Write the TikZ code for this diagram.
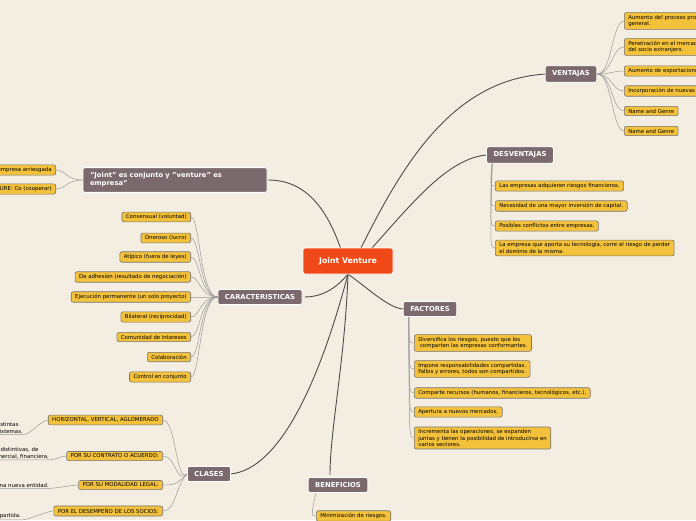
\documentclass[tikz,border=0pt]{standalone}
\usepackage{fontspec}
\setmainfont{DejaVu Sans}
\definecolor{leafc}{RGB}{244,194,58}
\definecolor{brc}{RGB}{122,106,110}
\definecolor{rootc}{RGB}{240,72,22}
\definecolor{bgc}{RGB}{244,238,226}
\begin{document}
\begin{tikzpicture}[x=1pt,y=-1pt,
 leaf/.style={draw=black!55,fill=leafc,rounded corners=2pt,font=\fontsize{5.4}{6.4}\selectfont,inner xsep=4pt,inner ysep=2.5pt,align=left,line width=0.6pt},
 cleaf/.style={leaf,align=center},
 branch/.style={draw=white,fill=brc,rounded corners=2pt,text=white,font=\fontsize{6.8}{8.2}\bfseries\selectfont,inner xsep=7pt,inner ysep=5pt,line width=0.8pt,align=left},
 root/.style={draw=white,fill=rootc,rounded corners=2pt,text=white,font=\fontsize{7.8}{9}\bfseries\selectfont,minimum width=90pt,minimum height=26pt,line width=0.8pt},
 main/.style={draw=black!70,line width=0.9pt},
 sub/.style={draw=black!40,line width=0.5pt},
 cut/.style={font=\fontsize{5.4}{6.4}\selectfont,align=left,inner sep=1pt}]
\fill[bgc] (0,0) rectangle (696,520);
\useasboundingbox (0,0) rectangle (696,520);

\draw[main] (348,274) .. controls (390,190) and (440,80) .. (546,74);
\draw[main] (348,274) .. controls (400,220) and (440,160) .. (486,155);
\draw[main] (348,274) .. controls (370,290) and (390,309) .. (404,309);
\draw[main] (348,274) .. controls (345,360) and (330,430) .. (330,475);
\draw[main] (348,274) .. controls (320,380) and (280,470) .. (230,474);
\draw[main] (348,274) .. controls (335,290) and (320,297) .. (305,297);
\draw[main] (348,274) .. controls (330,200) and (300,180) .. (268,180);

\node[root] (r) at (348,261) {Joint Venture};
\node[branch] (v) at (571,74) {VENTAJAS};
\node[branch] (d) at (520,155) {DESVENTAJAS};
\node[branch] (f) at (430,309) {FACTORES};
\node[branch] (b) at (338,485) {BENEFICIOS};
\node[branch] (c) at (209,474) {CLASES};
\node[branch] (k) at (260,297) {CARACTERISTICAS};
\node[branch,text width=170pt] (j) at (175,180) {"Joint" es conjunto y "venture" es\\empresa"};

\foreach \y/\t [count=\i] in {21/{Aumento del proceso productivo en\\general.},47/{Penetración en el mercado interno\\del socio extranjero.},71/{Aumento de exportaciones.},91/{Incorporación de nuevas tecnologías.},111/{Name and Genre},131/{Name and Genre}}{
 \node[leaf,anchor=west] (v\i) at (624,\y) {\t};
 \draw[sub] (v.east) .. controls (612,74) and (612,\y) .. (v\i.west);}

\foreach \y/\t [count=\i] in {186/{Las empresas adquieren riesgos financieros.},206/{Necesidad de una mayor inversión de capital.},226/{Posibles conflictos entre empresas.},248/{La empresa que aporta su tecnología, corre el riesgo de perder\\el dominio de la misma.}}{
 \node[leaf,anchor=west] (d\i) at (495,\y) {\t};
 \draw[sub] (d.south west) ++(6,0) .. controls (490,\y) .. (d\i.west);}

\foreach \y/\t [count=\i] in {343/{Diversifica los riesgos, puesto que los\\ \ comparten las empresas conformantes.},369/{Impone responsabilidades compartidas.\\Fallos y errores, todos son compartidos.},393/{Comparte recursos (humanos, financieros, tecnológicos, etc.),},412/{Apertura a nuevos mercados,},438/{Incrementa las operaciones, se expanden\\juntas y tienen la posibilidad de introducirse en\\varios sectores.}}{
 \node[leaf,anchor=west] (f\i) at (414,\y) {\t};
 \draw[sub] (f.south west) ++(6,0) .. controls (409,\y) .. (f\i.west);}

\node[leaf,anchor=west] (b1) at (316,516) {Minimización de riesgos.};
\draw[sub] (b.south west) ++(8,0) .. controls (311,516) .. (b1.west);

\foreach \y/\t [count=\i] in {217/{Consensual (voluntad)},238/{Oneroso (lucro)},257/{Atípico (fuera de leyes)},277/{De adhesión (resultado de negociación)},297/{Ejecución permanente (un solo proyecto)},317/{Bilateral (reciprocidad)},337/{Comunidad de intereses},357/{Colaboración},377/{Control en conjunto}}{
 \node[leaf,anchor=east] (k\i) at (191,\y) {\t};
 \draw[sub] (k.west) .. controls (200,297) and (200,\y) .. (k\i.east);}

\foreach \y/\t/\tx/\ty/\ct [count=\i] in {420/{HORIZONTAL, VERTICAL, AGLOMERADO}/24/428/{Se dan entre empresas distintas.\\Pertenecen a diferentes sistemas.},456/{POR SU CONTRATO O ACUERDO:}/50/453/{Según las características distintivas, de\\colaboración técnica, comercial, financiera,},485/{POR SU MODALIDAD LEGAL:}/50/485/{Sin formar o formando una nueva entidad.},511/{POR EL DESEMPEÑO DE LOS SOCIOS:}/22/516/{Con participación compartida.}}{
 \node[cleaf,anchor=east,font=\fontsize{5.4}{6.4}\selectfont] (c\i) at (163,\y) {\t};
 \draw[sub] (c.west) .. controls (176,484) and (176,\y) .. (c\i.east);
 \node[cut,anchor=east] (ct\i) at (\tx,\ty) {\ct};
 \draw[sub] (c\i.west) .. controls ([xshift=-6pt]c\i.west) and ([xshift=6pt]ct\i.south east) .. (ct\i.south east) -- (ct\i.south west);}

\node[leaf,anchor=east] (j1) at (56,170) {Venture: empresa arriesgada};
\node[leaf,anchor=east] (j2) at (56,189) {JOINT VENTURE: Co (cooperar)};
\draw[sub] (j.west) .. controls (66,180) and (66,170) .. (j1.east);
\draw[sub] (j.west) .. controls (66,180) and (66,189) .. (j2.east);
\end{tikzpicture}
\end{document}
